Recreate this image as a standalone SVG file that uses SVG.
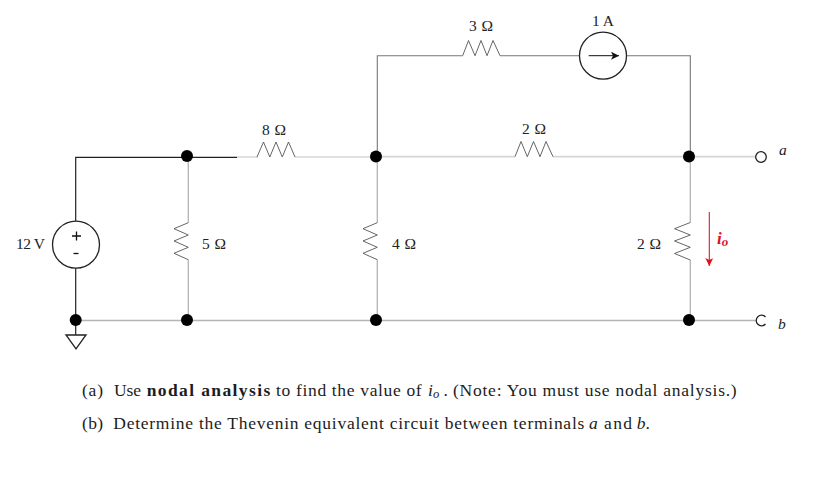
<svg xmlns="http://www.w3.org/2000/svg" width="818" height="494" viewBox="0 0 818 494">
<style>
.w{fill:none;stroke-linecap:butt;stroke-linejoin:miter}
.blk{stroke:#222;stroke-width:1.2}
.gry{stroke:#b4b4b4;stroke-width:1.3}
.dgr{stroke:#777;stroke-width:1.1}
.lgt{stroke:#d6d6d6;stroke-width:1.7}
.res{fill:none;stroke:#555;stroke-width:0.9}
.src{fill:#fff;stroke:#222;stroke-width:1.3}
.dot{fill:#000}
.l{font-family:"Liberation Serif","DejaVu Serif",serif;font-size:15.5px;fill:#222}
.t{font-family:"Liberation Serif","DejaVu Serif",serif;font-size:17.5px;fill:#1c1c1c}
.i{font-style:italic}
.b{font-weight:bold}
</style>
<defs>
<marker id="ah" markerWidth="10" markerHeight="8" refX="8" refY="4" orient="auto" markerUnits="userSpaceOnUse"><path d="M0,0L8,4L0,8L2,4Z" fill="#111"/></marker>
<marker id="ar" markerWidth="10" markerHeight="10" refX="8" refY="4" orient="auto" markerUnits="userSpaceOnUse"><path d="M0,0L8,4L0,8L2,4Z" fill="#e01020"/></marker>
</defs>
<g id="connectors">
<path class="w blk" d="M75.7 221V157.3H237"/>
<path class="w blk" d="M75.7 268V335"/>
<path class="w lgt" d="M237 157H258M295 157H376"/>
<path class="w lgt" d="M376 156.7H515M553 156.7H756"/>
<path class="w gry" d="M75.7 320.5H756"/>
<path class="w gry" d="M188.3 156V222.7M188.3 259.7V320"/>
<path class="w dgr" d="M377.3 156V55.7H462.7M500 55.7H580M626.5 55.7H690.3V156"/>
<path class="w gry" d="M377.3 156V222.7M377.3 259.7V320"/>
<path class="w gry" d="M690.3 156V222.5M690.3 260V320"/>
</g>
<g id="source-12v">
<circle class="src" cx="76" cy="244.7" r="23.5"/>
<path d="M72 236H81M76.5 231.5V240.5" stroke="#111" stroke-width="1.3" fill="none"/>
<path d="M73.5 253.5H78.5" stroke="#111" stroke-width="1.3" fill="none"/>
<text class="l" x="16" y="249" textLength="29" lengthAdjust="spacing">12 V</text>
</g>
<g id="ground"><path d="M66 335H86L76 349Z" fill="#fff" stroke="#222" stroke-width="1.3"/></g>
<g id="r-5"><path class="res" d="M188.3 222.7L174 228.7L188.3 235L174 241L188.3 247.3L174 253.3L188.3 259.7"/><text class="l" x="202" y="249" textLength="24" lengthAdjust="spacing">5 Ω</text></g>
<g id="r-8"><path class="res" d="M257 157L263.5 142L269.8 157L276 142L282.3 157L288.5 142L295 157"/><text class="l" x="262" y="135" textLength="24" lengthAdjust="spacing">8 Ω</text></g>
<g id="r-3"><path class="res" d="M462.7 55.7L468.5 40.5L475 55.7L481 40.5L487 55.7L493 40.5L500 55.7"/><text class="l" x="469" y="31" textLength="24" lengthAdjust="spacing">3 Ω</text></g>
<g id="source-1a">
<circle class="src" cx="603" cy="55.7" r="23.5"/>
<path d="M588.7 55.7H619" fill="none" stroke="#111" stroke-width="1" marker-end="url(#ah)"/>
<text class="l" x="592" y="26" textLength="22" lengthAdjust="spacing">1 A</text>
</g>
<g id="r-2-top"><path class="res" d="M515 156.7L521 141.5L527.3 156.7L533.5 141.5L540 156.7L546 141.5L553 156.7"/><text class="l" x="522" y="134" textLength="24" lengthAdjust="spacing">2 Ω</text></g>
<g id="r-4"><path class="res" d="M377.3 222.7L363 228.7L377.3 235L363 241L377.3 247.3L363 253.3L377.3 259.7"/><text class="l" x="392" y="249" textLength="24" lengthAdjust="spacing">4 Ω</text></g>
<g id="r-2-right"><path class="res" d="M690.3 222.5L674.5 228.7L690.3 235L674.5 241L690.3 247.3L674.5 253.5L690.3 260"/><text class="l" x="637" y="249" textLength="24" lengthAdjust="spacing">2 Ω</text></g>
<g id="nodes">
<circle class="dot" cx="187" cy="156" r="6"/>
<circle class="dot" cx="376" cy="156.5" r="6"/>
<circle class="dot" cx="689" cy="156.5" r="6"/>
<circle class="dot" cx="75.7" cy="320" r="6"/>
<circle class="dot" cx="187" cy="320" r="6"/>
<circle class="dot" cx="376" cy="320" r="6"/>
<circle class="dot" cx="689" cy="320" r="6"/>
</g>
<g id="terminal-a"><circle cx="761" cy="157" r="5.3" fill="#fff" stroke="#222" stroke-width="1.3"/><text class="l i" x="779" y="155">a</text></g>
<g id="terminal-b"><path d="M765.5 317A5.3 5.3 0 1 0 765.5 324" fill="#fff" stroke="#222" stroke-width="1.3"/><text class="l i" x="778" y="329">b</text></g>
<g id="current-io">
<path d="M709.3 212V266" fill="none" stroke="#d02030" stroke-width="1.1" marker-end="url(#ar)"/>
<text x="717" y="244" font-family="Liberation Serif,serif" font-size="17" font-weight="bold" font-style="italic" fill="#e01020">i<tspan font-size="13" dy="2">o</tspan></text>
</g>
<g id="question">
<text class="t" x="82" y="395.5" textLength="21" lengthAdjust="spacing">(a)</text>
<text class="t" x="114" y="395.5" textLength="27" lengthAdjust="spacing">Use</text>
<text class="t b" x="146.7" y="395.5" textLength="123.5" lengthAdjust="spacing">nodal analysis</text>
<text class="t" x="276" y="395.5" textLength="145.7" lengthAdjust="spacing">to find the value of</text>
<text class="t i" x="428" y="395.5">i<tspan font-size="12.5" dy="2">o</tspan></text>
<text class="t" x="443.5" y="395.5">.</text>
<text class="t" x="453" y="395.5" textLength="283.7" lengthAdjust="spacing">(Note: You must use nodal analysis.)</text>
<text class="t" x="82" y="429" textLength="21" lengthAdjust="spacing">(b)</text>
<text class="t" x="113.3" y="429" textLength="471" lengthAdjust="spacing">Determine the Thevenin equivalent circuit between terminals</text>
<text class="t i" x="589" y="429">a</text>
<text class="t" x="604" y="429" textLength="28" lengthAdjust="spacing">and</text>
<text class="t i" x="636.7" y="429">b</text>
<text class="t" x="645.5" y="429">.</text>
</g>
</svg>
